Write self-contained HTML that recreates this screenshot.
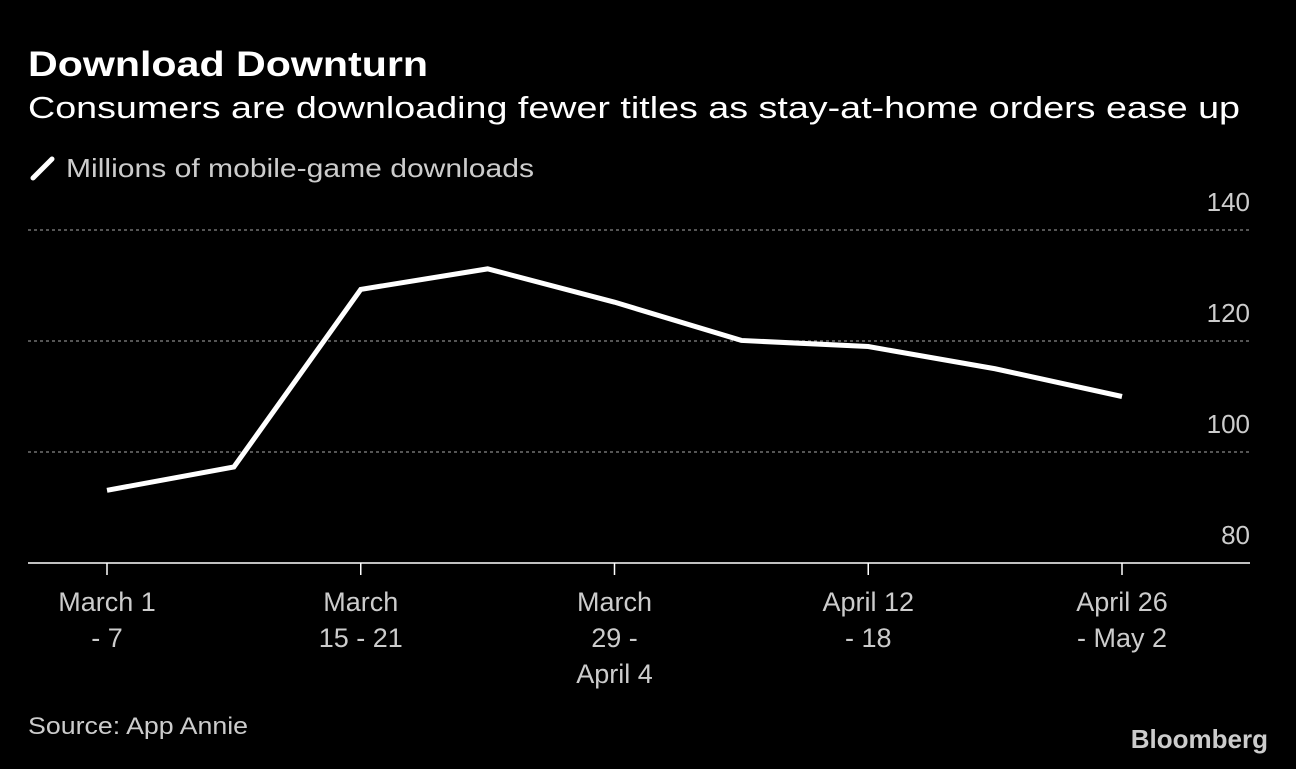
<!DOCTYPE html>
<html><head><meta charset="utf-8"><style>
body{margin:0;background:#000;width:1296px;height:764px;overflow:hidden;font-family:"Liberation Sans",sans-serif;color:#fff}
svg text{font-family:"Liberation Sans",sans-serif}
</style></head><body>
<svg width="1296" height="764">
<text x="28" y="76" font-size="35" font-weight="bold" fill="#fff" textLength="400" lengthAdjust="spacingAndGlyphs">Download Downturn</text>
<text x="28" y="118" font-size="31" fill="#fff" textLength="1212" lengthAdjust="spacingAndGlyphs">Consumers are downloading fewer titles as stay-at-home orders ease up</text>
<line x1="33" y1="178" x2="52" y2="159" stroke="#fff" stroke-width="5" stroke-linecap="round"/>
<text x="66" y="177" font-size="26" fill="#ccc" textLength="468" lengthAdjust="spacingAndGlyphs">Millions of mobile-game downloads</text>
<g id="grid"></g><g id="xaxis"></g><g id="series"></g>
<text x="28" y="734" font-size="24" fill="#ccc" textLength="220" lengthAdjust="spacingAndGlyphs">Source: App Annie</text>
<text x="1268" y="748" font-size="26" font-weight="bold" fill="#ccc" text-anchor="end">Bloomberg</text>
</svg>
<script>
const categories=["Mar 1-7","Mar 8-14","Mar 15-21","Mar 22-28","Mar 29-Apr 4","Apr 5-11","Apr 12-18","Apr 19-25","Apr 26-May 2"];
const downloads=[93.1,97.3,129.3,133,127,120.1,119,115,110];
const yTicks=[80,100,120,140];
const xLabelIdx=[0,2,4,6,8];
const xLabels=[["March 1","- 7"],["March","15 - 21"],["March","29 -","April 4"],["April 12","- 18"],["April 26","- May 2"]];
const NS="http://www.w3.org/2000/svg";
const x0=107,dx=126.875,yBase=563,pxPer=(563-230)/60;
const X=i=>x0+i*dx, Y=v=>yBase-(v-80)*pxPer;
function mk(t,a,p){const e=document.createElementNS(NS,t);for(const k in a)e.setAttribute(k,a[k]);p.appendChild(e);return e;}
const grid=document.getElementById('grid');
yTicks.forEach(v=>{
 if(v>80){const l=mk('line',{x1:28,x2:1250,y1:Y(v),y2:Y(v),stroke:'#888','stroke-dasharray':'3,3','stroke-width':1.3},grid);
 
 }
 const t=mk('text',{x:1250,y:Y(v)-19,'font-size':26,fill:'#ccc','text-anchor':'end'},grid);t.textContent=v;
 
 
});
const xa=document.getElementById('xaxis');
const ax=mk('line',{x1:28,x2:1250,y1:yBase,y2:yBase,stroke:'#fff','stroke-width':1.5},xa);


xLabelIdx.forEach((ci,j)=>{
 const tk=mk('line',{x1:X(ci),x2:X(ci),y1:yBase,y2:yBase+12,stroke:'#fff','stroke-width':1.5},xa);
 
 
 xLabels[j].forEach((s,k)=>{const t=mk('text',{x:X(ci),y:611+k*36,'font-size':27,fill:'#ccc','text-anchor':'middle'},xa);t.textContent=s;
 
 });
});
const p=mk('polyline',{points:downloads.map((v,i)=>X(i)+','+Y(v)).join(' '),fill:'none',stroke:'#fff','stroke-width':5,'stroke-linejoin':'miter'},document.getElementById('series'));


</script>
</body></html>
